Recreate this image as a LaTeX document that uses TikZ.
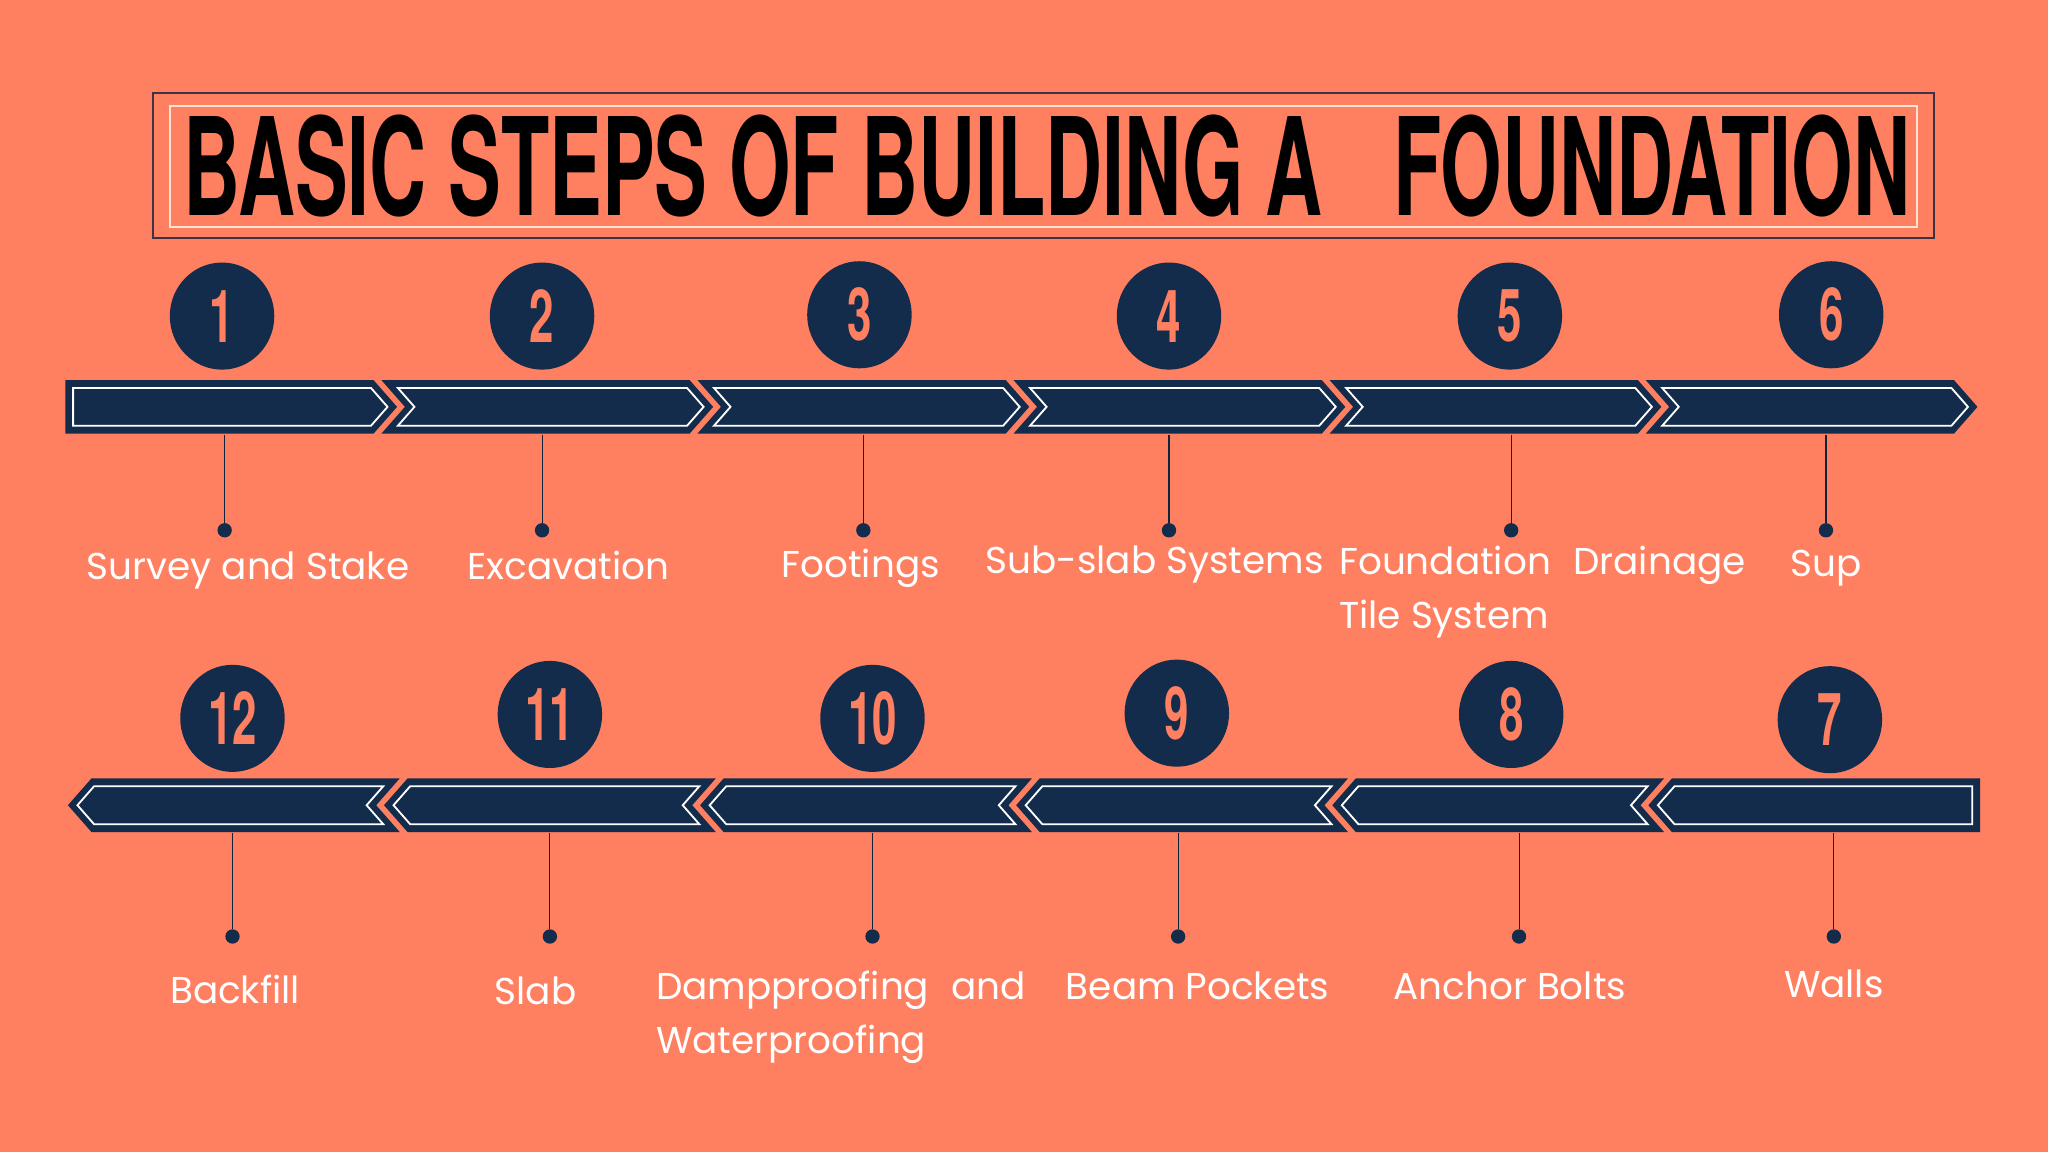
\documentclass[tikz,border=0pt]{standalone}
\usepackage{fontspec}
\setmainfont{Poppins}
\newfontfamily\headfont{TeX Gyre Heros}
\usepackage{graphicx}
\usetikzlibrary{shapes.geometric}
\usetikzlibrary{positioning}
\usepackage{xcolor}

\definecolor{coral}{RGB}{255,127,97}
\definecolor{navy}{RGB}{20,44,75}
\definecolor{frameline}{RGB}{60,52,70}
\definecolor{cream}{RGB}{255,228,214}

\newcommand{\stepno}[1]{\scalebox{0.6}[1]{#1}}

\tikzset{
  stepdisc/.style={ellipse,fill=navy,minimum width=40pt,minimum height=41pt,inner sep=0pt,
    text=coral,font=\headfont\bfseries\fontsize{28}{28}\selectfont},
  dotend/.style={circle,fill=navy,minimum size=5.5pt,inner sep=0pt},
  stem/.style={draw=navy!80!black,line width=0.4pt},
  steplabel/.style={text=white,inner sep=0pt,font=\fontsize{14.3}{20.5}\selectfont},
  inline/.style={draw=white,line width=0.7pt,line join=miter},
  chevfirst/.pic={
    \fill[navy] (0,0)--(236,0)--(254,20.5)--(236,41)--(0,41)--cycle;
    \draw[inline] (6,6)--(234,6)--(246.7,20.5)--(234,35)--(6,35)--cycle;
  },
  chevright/.pic={
    \fill[navy] (0,0)--(236,0)--(254,20.5)--(236,41)--(0,41)--(18,20.5)--cycle;
    \draw[inline] (12.6,6)--(234,6)--(246.7,20.5)--(234,35)--(12.6,35)--(25.3,20.5)--cycle;
  },
  chevleft/.pic={
    \fill[navy] (254,0)--(18,0)--(0,20.5)--(18,41)--(254,41)--(236,20.5)--cycle;
    \draw[inline] (241.4,6)--(20,6)--(7.3,20.5)--(20,35)--(241.4,35)--(228.7,20.5)--cycle;
  },
  chevlast/.pic={
    \fill[navy] (254,0)--(18,0)--(0,20.5)--(18,41)--(254,41)--cycle;
    \draw[inline] (248,6)--(20,6)--(7.3,20.5)--(20,35)--(248,35)--cycle;
  }
}

\begin{document}
\begin{tikzpicture}[x=0.5pt,y=-0.5pt]
\path[use as bounding box,fill=coral] (0,0) rectangle (1568,882);

% title
\draw[frameline,line width=0.8pt] (117,71) rectangle (1481,182);
\draw[cream,line width=0.8pt] (130,81) rectangle (1468,174);
\node[anchor=base west,inner sep=0pt] (title) at (140,165)
  {\resizebox{661pt}{38.5pt}{\headfont\bfseries BASIC STEPS OF BUILDING A\hspace{0.9em}FOUNDATION}};

% top row
\pic at (50,291) {chevfirst};
\pic at (292,291) {chevright};
\pic at (534,291) {chevright};
\pic at (776,291) {chevright};
\pic at (1018,291) {chevright};
\pic at (1260,291) {chevright};

\node[stepdisc] (s1) at (170,242) {\stepno{1}};
\node[stepdisc] (s2) at (415,242) {\stepno{2}};
\node[stepdisc] (s3) at (658,241) {\stepno{3}};
\node[stepdisc] (s4) at (895,242) {\stepno{4}};
\node[stepdisc] (s5) at (1156,242) {\stepno{5}};
\node[stepdisc] (s6) at (1402,241) {\stepno{6}};

\coordinate (b1) at (172,333);
\coordinate (b2) at (415,333);
\coordinate (b3) at (661,333);
\coordinate (b4) at (895,333);
\coordinate (b5) at (1157,333);
\coordinate (b6) at (1398,333);
\node[dotend] (d1) at (172,406) {};
\node[dotend] (d2) at (415,406) {};
\node[dotend] (d3) at (661,406) {};
\node[dotend] (d4) at (895,406) {};
\node[dotend] (d5) at (1157,406) {};
\node[dotend] (d6) at (1398,406) {};
\draw[stem] (b1)--(d1);
\draw[stem] (b2)--(d2);
\draw[stem] (b3)--(d3);
\draw[stem] (b4)--(d4);
\draw[stem] (b5)--(d5);
\draw[stem] (b6)--(d6);

\node[steplabel,anchor=base] (l1) at (190,444) {Survey and Stake};
\node[steplabel,anchor=base] (l2) at (435,444) {Excavation};
\node[steplabel,anchor=base] (l3) at (659,442) {Footings};
\node[steplabel,anchor=base] (l4) at (884,439) {Sub-slab Systems};
\node[steplabel,anchor=north west,align=left] (l5) at (1025,418) {Foundation\hspace{0.6em}Drainage\\Tile System};
\node[steplabel,anchor=base] (l6) at (1398,441) {Sup};

% bottom row
\pic at (52,596) {chevleft};
\pic at (294,596) {chevleft};
\pic at (536,596) {chevleft};
\pic at (778,596) {chevleft};
\pic at (1020,596) {chevleft};
\pic at (1262,596) {chevlast};

\node[stepdisc] (s12) at (178,550) {\stepno{12}};
\node[stepdisc] (s11) at (421,547) {\stepno{11}};
\node[stepdisc] (s10) at (668,550) {\stepno{10}};
\node[stepdisc] (s9) at (901,546) {\stepno{9}};
\node[stepdisc] (s8) at (1157,547) {\stepno{8}};
\node[stepdisc] (s7) at (1401,551) {\stepno{7}};

\coordinate (b12) at (178,638);
\coordinate (b11) at (421,638);
\coordinate (b10) at (668,638);
\coordinate (b9) at (902,638);
\coordinate (b8) at (1163,638);
\coordinate (b7) at (1404,638);
\node[dotend] (d12) at (178,717) {};
\node[dotend] (d11) at (421,717) {};
\node[dotend] (d10) at (668,717) {};
\node[dotend] (d9) at (902,717) {};
\node[dotend] (d8) at (1163,717) {};
\node[dotend] (d7) at (1404,717) {};
\draw[stem] (b12)--(d12);
\draw[stem] (b11)--(d11);
\draw[stem] (b10)--(d10);
\draw[stem] (b9)--(d9);
\draw[stem] (b8)--(d8);
\draw[stem] (b7)--(d7);

\node[steplabel,anchor=base] (l12) at (180,768) {Backfill};
\node[steplabel,anchor=base] (l11) at (410,769) {Slab};
\node[steplabel,anchor=north west,align=left] (l10) at (502,743) {Dampproofing\hspace{0.6em}and\\Waterproofing};
\node[steplabel,anchor=base] (l9) at (917,765) {Beam Pockets};
\node[steplabel,anchor=base] (l8) at (1156,765) {Anchor Bolts};
\node[steplabel,anchor=base] (l7) at (1404,764) {Walls};

\end{tikzpicture}
\end{document}
